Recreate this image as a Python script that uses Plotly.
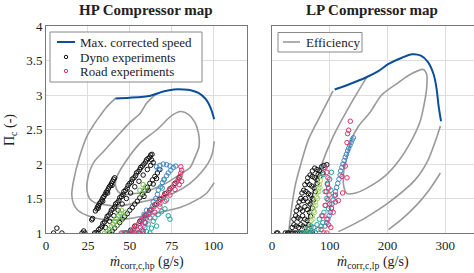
import plotly.graph_objects as go

# ---------------- data ----------------
hp_speed_x = [41.4, 50, 62.4, 70, 76.4, 82, 86.4, 91, 95.4, 98.5, 100.4]
hp_speed_y = [2.95, 2.96, 2.99, 3.05, 3.08, 3.08, 3.07, 3.03, 2.94, 2.80, 2.65]

hp_eff_outer_x = [41.4, 36, 32, 28, 24.4, 20, 16.4, 15.4, 16.5, 19, 25, 36, 50, 66, 80, 90, 96, 100.4]
hp_eff_outer_y = [2.95, 2.82, 2.69, 2.55, 2.40, 2.10, 1.75, 1.55, 1.42, 1.33, 1.25, 1.19, 1.21, 1.29, 1.37, 1.48, 1.58, 1.73]
hp_eff_mid_x = [65.4, 60, 56.4, 50, 42.4, 35, 28.4, 25, 24.4, 26, 29, 35, 42.4, 55, 66, 76.4, 86, 92.4, 97, 99.4, 100.4]
hp_eff_mid_y = [3.01, 2.88, 2.74, 2.60, 2.40, 2.20, 2.02, 1.80, 1.63, 1.50, 1.44, 1.41, 1.39, 1.44, 1.50, 1.58, 1.72, 1.87, 2.02, 2.16, 2.33]
hp_eff_in_x = [80.4, 75, 66.4, 56.4, 48, 42.4, 41.4, 43, 46, 52, 56.4, 65, 72.4, 80, 86, 89, 91.4, 91, 89, 85, 80.4]
hp_eff_in_y = [2.76, 2.70, 2.50, 2.31, 2.05, 1.82, 1.70, 1.60, 1.56, 1.57, 1.58, 1.65, 1.73, 1.85, 1.95, 2.10, 2.26, 2.45, 2.60, 2.72, 2.76]

lp_speed_x = [108.5, 135, 161.7, 185, 202, 225, 242.6, 258, 270, 280, 285, 288.7, 292.9]
lp_speed_y = [3.08, 3.16, 3.25, 3.35, 3.45, 3.54, 3.59, 3.57, 3.48, 3.30, 3.10, 2.84, 2.62]

lp_eff_outer_x = [105.7, 85, 63.4, 50, 40, 33, 28.8, None, 202, 225, 250, 272, 291.7]
lp_eff_outer_y = [3.06, 2.72, 2.36, 2.00, 1.68, 1.30, 1.00, None, 1.05, 1.20, 1.40, 1.62, 1.87]
lp_eff_mid_x = [165, 135, 106, 82, 70, 63, 59, None, 115, 135, 161.7, 202, 248, 270, 286, 291.7]
lp_eff_mid_y = [3.27, 2.85, 2.40, 1.90, 1.55, 1.20, 1.00, None, 1.02, 1.10, 1.22, 1.44, 1.77, 2.05, 2.40, 2.55]
lp_eff_in_x = [262, 240, 219, 190, 170, 150, 138, 130, 124, 125, 130, 145, 162, 195, 220, 243, 256, 263, 268, 268, 262]
lp_eff_in_y = [3.37, 3.30, 3.18, 3.00, 2.75, 2.55, 2.36, 2.10, 1.87, 1.65, 1.57, 1.58, 1.64, 1.82, 2.05, 2.36, 2.60, 2.84, 3.10, 3.30, 3.37]

hp_dyno = [(4.5, 1.0), (6.5, 1.07), (9.5, 1.0), (21.5, 1.0), (22.5, 1.03), (23.2, 1.0), (27.3, 1.19), (27.8, 1.21),
           (29.5, 1.32), (30.3, 1.35), (30.8, 1.38), (31.5, 1.40), (32.0, 1.43), (32.8, 1.45), (33.4, 1.48), (34.0, 1.51),
           (34.6, 1.53), (35.3, 1.56), (35.9, 1.59), (36.5, 1.61), (37.2, 1.64), (37.8, 1.67), (38.5, 1.69), (39.1, 1.72),
           (39.8, 1.75), (40.4, 1.78), (41.0, 1.80), (31.2, 1.36), (33.9, 1.46), (36.8, 1.58), (39.4, 1.69),
           (29.0, 1.00), (30.0, 1.01), (31.0, 1.0), (31.5, 1.05), (32.5, 1.07), (33.5, 1.10), (34.0, 1.14), (35.0, 1.16),
           (36.0, 1.20), (36.5, 1.24), (37.5, 1.26), (38.5, 1.29), (39.0, 1.33), (40.0, 1.35), (41.0, 1.38), (41.5, 1.42),
           (42.5, 1.44), (43.5, 1.47), (44.0, 1.51), (45.0, 1.53), (46.0, 1.56), (46.5, 1.60), (47.5, 1.62), (48.5, 1.65),
           (49.0, 1.69), (50.0, 1.72), (51.0, 1.74), (51.5, 1.78), (52.5, 1.80), (53.5, 1.83), (54.0, 1.87), (55.0, 1.89),
           (56.0, 1.92), (56.5, 1.95), (57.5, 1.97), (58.5, 2.00), (59.5, 2.03), (60.0, 2.06), (61.0, 2.08), (62.0, 2.10),
           (62.5, 2.13), (63.3, 2.14),
           (35.5, 1.08), (38.0, 1.17), (40.5, 1.25), (43.0, 1.33), (45.5, 1.42), (48.0, 1.50), (50.5, 1.58), (53.0, 1.67),
           (55.5, 1.75), (58.0, 1.84), (60.5, 1.92), (62.5, 1.98), (64.0, 2.02), (63.0, 2.06),
           (38.0, 1.00), (39.5, 1.03), (41.0, 1.07), (42.5, 1.11), (44.0, 1.15), (45.5, 1.20), (47.0, 1.24), (48.5, 1.28),
           (50.0, 1.33), (51.5, 1.37), (53.0, 1.42), (54.5, 1.46), (56.0, 1.51), (57.5, 1.56), (59.0, 1.61), (60.5, 1.66),
           (62.0, 1.72), (63.5, 1.77), (65.0, 1.82), (66.5, 1.87), (68.0, 1.92), (66.0, 1.79), (64.0, 1.71), (61.0, 1.62),
           (58.5, 1.53),
           (48.0, 1.0), (50.5, 1.04), (53.0, 1.10), (56.0, 1.17), (59.0, 1.25), (62.0, 1.33), (65.0, 1.41), (68.0, 1.49),
           (71.0, 1.57), (74.0, 1.64), (77.0, 1.72), (79.5, 1.80)]

hp_road_red = [(50.0, 1.0), (51.5, 1.03), (53.0, 1.0), (52.5, 1.07), (54.0, 1.10), (55.5, 1.14), (56.5, 1.08), (57.0, 1.18),
               (58.5, 1.22), (60.0, 1.26), (59.0, 1.15), (61.5, 1.30), (63.0, 1.34), (62.0, 1.22), (64.5, 1.38), (66.0, 1.42),
               (65.0, 1.30), (67.5, 1.46), (69.0, 1.50), (68.0, 1.38), (70.5, 1.54), (72.0, 1.58), (71.0, 1.46), (73.5, 1.62),
               (75.0, 1.66), (74.0, 1.55), (76.5, 1.70), (78.0, 1.74), (77.0, 1.63), (79.0, 1.78), (80.0, 1.82), (80.5, 1.87),
               (81.0, 1.91), (80.5, 1.96), (79.5, 1.70), (81.0, 1.75), (45.0, 1.0), (47.0, 1.0), (55.0, 1.0), (58.0, 1.03)]
hp_road_blue = [(55.5, 1.0), (57.0, 1.04), (58.0, 1.10), (59.5, 1.15), (60.0, 1.22), (61.5, 1.27), (62.5, 1.33), (63.5, 1.39),
                (64.0, 1.45), (65.5, 1.50), (66.5, 1.56), (67.0, 1.62), (68.5, 1.67), (69.5, 1.73), (70.5, 1.78), (72.0, 1.83),
                (73.0, 1.87), (74.5, 1.91), (58.5, 1.27), (60.0, 1.33), (57.0, 1.20),
                (66.0, 1.96), (68.0, 1.98), (70.0, 2.00), (72.0, 1.99), (74.0, 1.97), (76.0, 1.95), (77.5, 1.97), (67.0, 1.92)]
hp_road_teal = [(46, 1.0), (48, 1.0), (50, 1.02), (52, 1.0), (54, 1.01), (56, 1.0), (58, 1.0), (60, 1.02), (62, 1.0),
                (63, 1.07), (61, 1.13), (64, 1.17), (65, 1.22), (67, 1.27), (69, 1.31), (71, 1.35), (73, 1.25), (74, 1.20),
                (68, 1.42), (72, 1.48), (66, 1.10), (59, 1.08), (69.4, 1.65), (70.4, 1.77)]
hp_road_green = [(35, 1.0), (36.5, 1.02), (38, 1.05), (39, 1.09), (40, 1.13), (41, 1.17), (42, 1.21), (43, 1.25), (44, 1.29),
                 (45, 1.33), (42.5, 1.11), (44.5, 1.18), (46, 1.24), (57, 1.57), (58.5, 1.62), (59.5, 1.67), (58, 1.70),
                 (56, 1.62), (47.5, 1.30), (38.5, 1.0)]

lp_dyno = [(8, 1.0), (10, 1.0), (23, 1.0), (27, 1.0), (29, 1.0),
           (33, 1.0), (36, 1.0), (40, 1.0), (44, 1.0), (48, 1.0), (52, 1.0), (56, 1.0), (60, 1.0), (66, 1.0), (70, 1.0),
           (35, 1.08), (38, 1.12), (42, 1.10), (46, 1.08), (50, 1.12), (54, 1.10), (58, 1.08), (64, 1.12),
           (38, 1.20), (41, 1.25), (45, 1.22), (49, 1.20), (53, 1.25), (57, 1.20), (61, 1.18), (67, 1.24),
           (42, 1.32), (45, 1.38), (49, 1.35), (53, 1.32), (57, 1.38), (61, 1.34), (65, 1.30), (70, 1.36),
           (47, 1.45), (50, 1.50), (54, 1.47), (58, 1.50), (62, 1.45), (66, 1.42), (72, 1.48),
           (52, 1.58), (55, 1.62), (59, 1.60), (63, 1.57), (67, 1.55), (70, 1.50), (75, 1.60),
           (57, 1.70), (61, 1.74), (65, 1.70), (69, 1.68), (73, 1.65), (78, 1.72),
           (62, 1.80), (66, 1.84), (70, 1.82), (74, 1.80), (78, 1.77), (83, 1.82),
           (70, 1.90), (74, 1.94), (78, 1.92), (82, 1.90), (86, 1.96), (90, 1.98), (95, 1.99), (80, 1.85), (88, 1.87)]
lp_road_red = [(92, 1.95), (95, 1.88), (97, 1.80), (96, 1.72), (98, 1.65), (94, 1.60), (99, 1.55), (97, 1.48), (100, 1.42),
               (103, 1.36), (106, 1.30), (110, 1.45), (115, 1.47), (92, 1.40), (88, 1.25), (95, 1.20), (98, 1.12),
               (102, 1.08), (85, 1.05), (90, 1.0), (95, 1.0), (110, 1.55), (127, 1.97), (130, 1.80), (131, 2.44),
               (132.8, 2.49), (135.7, 2.62), (130, 2.31), (121.3, 1.82), (122.3, 1.58)]
lp_road_blue = [(141, 2.38), (139, 2.35), (137, 2.31), (135, 2.27), (133, 2.23), (131, 2.19), (129, 2.14), (127, 2.10),
                (125, 2.05), (123, 2.00), (121, 1.95), (119, 1.90), (118, 1.84), (116, 1.78), (114, 1.72), (112, 1.66),
                (110, 1.60), (108, 1.54), (106, 1.48), (104, 1.42), (103, 1.36), (101, 1.30), (99, 1.25), (97, 1.20),
                (95, 1.15)]
lp_road_teal = [(50, 1.0), (55, 1.0), (60, 1.02), (65, 1.0), (70, 1.03), (75, 1.0), (80, 1.05), (85, 1.10), (88, 1.15),
                (92, 1.10), (78, 1.12), (72, 1.08), (82, 1.20), (86, 1.25), (90, 1.30), (93, 1.40), (95, 1.50), (92, 1.60),
                (96, 1.70), (100, 1.78), (102, 1.62), (98, 1.35), (103, 1.88), (90, 1.95), (89, 1.85), (62, 1.05), (68, 1.10)]
lp_road_green = [(66, 1.10), (68, 1.18), (70, 1.25), (72, 1.32), (73, 1.38), (75, 1.45), (77, 1.52), (78, 1.58), (80, 1.64),
                 (82, 1.70), (84, 1.76), (85, 1.82), (71, 1.20), (74, 1.30), (76, 1.40), (79, 1.50), (81, 1.60), (83, 1.66),
                 (60, 1.0), (64, 1.02), (58, 1.05)]

hp_xticks = [0, 25, 50, 75, 100]
lp_xticks = [0, 100, 200, 300]
y_ticks = [1, 1.5, 2, 2.5, 3, 3.5, 4]
y_ticklabels = ["1", "1.5", "2", "2.5", "3", "3.5", "4"]

hp_legend_labels = ["Max. corrected speed", "Dyno experiments", "Road experiments"]
lp_legend_labels = ["Efficiency"]

# ---------------- style ----------------
FONT = "Liberation Serif"
TXT = "#222222"
C_SPEED = "#0b4f9c"
C_EFF = "#9a9a9a"
C_DYNO = "#111111"
C_RED = "#e0306a"
C_BLUE = "#3f86c6"
C_TEAL = "#21a0a0"
C_GREEN = "#72c04f"
C_LGREEN = "#a4d36a"

W, H = 474, 273
ML, MR, MT, MB = 46, 0, 26, 40
PW = W - ML - MR
PH = H - MT - MB


def px(x):
    return (x - ML) / PW


def py(y):
    return 1 - (y - MT) / PH


fig = go.Figure()


def pts(lst):
    return [p[0] for p in lst], [p[1] for p in lst]


def add_scatter(lst, color, xa, ya):
    x, y = pts(lst)
    fig.add_trace(go.Scatter(x=x, y=y, mode="markers", xaxis=xa, yaxis=ya, showlegend=False,
                             marker=dict(symbol="circle-open", size=4.5, color=color, line=dict(width=1, color=color))))


def add_line(x, y, color, width, xa, ya):
    fig.add_trace(go.Scatter(x=x, y=y, mode="lines", xaxis=xa, yaxis=ya, showlegend=False, connectgaps=False,
                             line=dict(color=color, width=width, shape="spline", smoothing=0.8)))


# HP panel
add_line(hp_eff_outer_x, hp_eff_outer_y, C_EFF, 1.6, "x", "y")
add_line(hp_eff_mid_x, hp_eff_mid_y, C_EFF, 1.6, "x", "y")
add_line(hp_eff_in_x, hp_eff_in_y, C_EFF, 1.6, "x", "y")
add_line(hp_speed_x, hp_speed_y, C_SPEED, 2.0, "x", "y")
add_scatter(hp_dyno, C_DYNO, "x", "y")
add_scatter(hp_road_green, C_GREEN, "x", "y")
add_scatter(hp_road_teal, C_TEAL, "x", "y")
add_scatter(hp_road_blue, C_BLUE, "x", "y")
add_scatter(hp_road_red, C_RED, "x", "y")

# LP panel
add_line(lp_eff_outer_x, lp_eff_outer_y, C_EFF, 1.6, "x2", "y2")
add_line(lp_eff_mid_x, lp_eff_mid_y, C_EFF, 1.6, "x2", "y2")
add_line(lp_eff_in_x, lp_eff_in_y, C_EFF, 1.6, "x2", "y2")
add_line(lp_speed_x, lp_speed_y, C_SPEED, 2.0, "x2", "y2")
add_scatter(lp_dyno, C_DYNO, "x2", "y2")
add_scatter(lp_road_green, C_LGREEN, "x2", "y2")
add_scatter(lp_road_teal, C_TEAL, "x2", "y2")
add_scatter(lp_road_blue, C_BLUE, "x2", "y2")
add_scatter(lp_road_red, C_RED, "x2", "y2")

d1 = px(247)
d2 = px(272)

axis_common = dict(showgrid=True, gridcolor="#dddddd", gridwidth=1, zeroline=False,
                   showline=True, mirror=True, linecolor="#777777", linewidth=1,
                   ticks="", tickfont=dict(family=FONT, size=13, color=TXT))

fig.update_layout(
    width=W, height=H,
    margin=dict(l=ML, r=MR, t=MT, b=MB, pad=0),
    paper_bgcolor="white", plot_bgcolor="white",
    font=dict(family=FONT, size=13, color=TXT),
    showlegend=False,
    xaxis=dict(domain=[0, d1], range=[0, 120], tickvals=hp_xticks, anchor="y", **axis_common),
    yaxis=dict(domain=[0, 1], range=[1, 4], tickvals=y_ticks, ticktext=y_ticklabels, anchor="x", **axis_common),
    xaxis2=dict(domain=[d2, 1], range=[0, 350], tickvals=lp_xticks, anchor="y2", **axis_common),
    yaxis2=dict(domain=[0, 1], range=[1, 4], tickvals=y_ticks, showticklabels=False, anchor="x2", **axis_common),
)

# ---- legends (drawn as shapes + text, in paper coordinates) ----
shapes = []
ann = []
# HP legend box
shapes.append(dict(type="rect", xref="paper", yref="paper", x0=px(50), x1=px(202), y0=py(32), y1=py(82),
                   fillcolor="white", line=dict(color="#888888", width=1), layer="above"))
rows = [42, 57, 71]
shapes.append(dict(type="line", xref="paper", yref="paper", x0=px(57), x1=px(75), y0=py(rows[0]), y1=py(rows[0]),
                   line=dict(color=C_SPEED, width=2), layer="above"))
for r, c in ((rows[1], C_DYNO), (rows[2], C_RED)):
    shapes.append(dict(type="circle", xref="paper", yref="paper", x0=px(64.3), x1=px(67.7), y0=py(r + 1.7), y1=py(r - 1.7),
                       line=dict(color=c, width=1), layer="above"))
for r, t in zip(rows, hp_legend_labels):
    ann.append(dict(text=t, x=px(78), y=py(r), xanchor="left", font=dict(size=13)))
# LP legend box
shapes.append(dict(type="rect", xref="paper", yref="paper", x0=px(278), x1=px(362), y0=py(32.5), y1=py(52),
                   fillcolor="white", line=dict(color="#888888", width=1), layer="above"))
shapes.append(dict(type="line", xref="paper", yref="paper", x0=px(283), x1=px(300), y0=py(42), y1=py(42),
                   line=dict(color=C_EFF, width=1.6), layer="above"))
ann.append(dict(text=lp_legend_labels[0], x=px(304), y=py(42), xanchor="left", font=dict(size=13)))

# titles and axis labels
ann += [
    dict(text="<b>HP Compressor map</b>", x=px(146), y=py(10), font=dict(size=15)),
    dict(text="<b>LP Compressor map</b>", x=px(372), y=py(10), font=dict(size=15)),
    dict(text="<i>ṁ</i><sub>corr,c,hp</sub> (g/s)", x=px(147), y=py(262), font=dict(size=14)),
    dict(text="<i>ṁ</i><sub>corr,c,lp</sub> (g/s)", x=px(373), y=py(262), font=dict(size=14)),
    dict(text="Π<sub>c</sub> (-)", x=px(10), y=py(130), textangle=-90, font=dict(size=14)),
]
for a in ann:
    a.setdefault("xanchor", "center")
    a.update(xref="paper", yref="paper", showarrow=False, yanchor="middle")
    a["font"].update(family=FONT, color=TXT)
fig.update_layout(annotations=ann, shapes=shapes)

fig.write_html("out.html")
